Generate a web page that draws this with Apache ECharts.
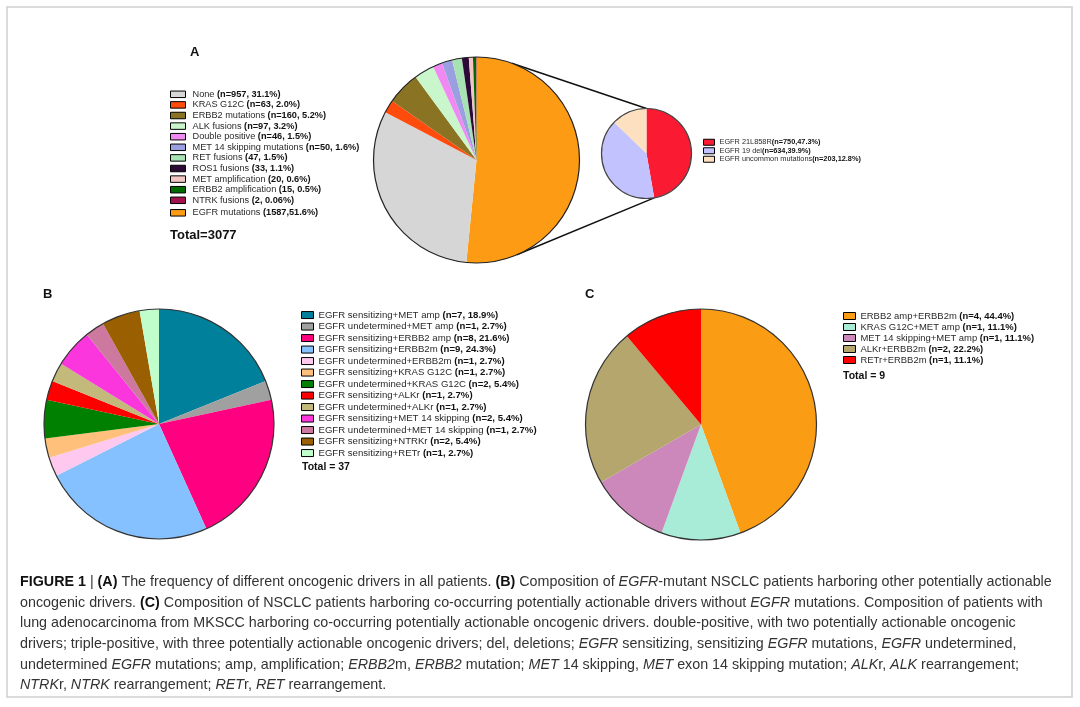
<!DOCTYPE html>
<html>
<head>
<meta charset="utf-8">
<script src="https://cdn.jsdelivr.net/npm/echarts@6/dist/echarts.min.js"></script>
<style>
  html, body { margin: 0; padding: 0; background: #fff; }
  #chart { width: 1080px; height: 707px; }
</style>
</head>
<body>
<div id="chart"></div>
<script>
// panel A - all patients (legend order, EGFR last)
const aNames = ['None', 'KRAS G12C', 'ERBB2 mutations', 'ALK fusions', 'Double positive',
  'MET 14 skipping mutations', 'RET fusions', 'ROS1 fusions', 'MET amplification',
  'ERBB2 amplification', 'NTRK fusions', 'EGFR mutations']
const aCounts = [957, 63, 160, 97, 46, 50, 47, 33, 20, 15, 2, 1587]
const aNotes = ['(n=957, 31.1%)', '(n=63, 2.0%)', '(n=160, 5.2%)', '(n=97, 3.2%)', '(n=46, 1.5%)',
  '(n=50, 1.6%)', '(47, 1.5%)', '(33, 1.1%)', '(20, 0.6%)', '(15, 0.5%)', '(2, 0.06%)', '(1587,51.6%)']
const aColors = ['#d6d6d6', '#ff4b0c', '#8a7424', '#c9f7cb', '#f08af2', '#9a9fe0', '#a6e2b2',
  '#2c0a38', '#f3c6c6', '#006a00', '#a3104e', '#fd9c14']

// EGFR mutation breakdown
const eNames = ['EGFR 21L858R', 'EGFR 19 del', 'EGFR uncommon mutations']
const eCounts = [750, 634, 203]
const eNotes = ['(n=750,47.3%)', '(n=634,39.9%)', '(n=203,12.8%)']
const eColors = ['#fa1a31', '#c2c2ff', '#fde0bf']

// panel B
const bNames = ['EGFR sensitizing+MET amp', 'EGFR undetermined+MET amp', 'EGFR sensitizing+ERBB2 amp',
  'EGFR sensitizing+ERBB2m', 'EGFR undetermined+ERBB2m', 'EGFR sensitizing+KRAS G12C',
  'EGFR undetermined+KRAS G12C', 'EGFR sensitizing+ALKr', 'EGFR undetermined+ALKr',
  'EGFR sensitizing+MET 14 skipping', 'EGFR undetermined+MET 14 skipping',
  'EGFR sensitizing+NTRKr', 'EGFR sensitizing+RETr']
const bCounts = [7, 1, 8, 9, 1, 1, 2, 1, 1, 2, 1, 2, 1]
const bNotes = ['(n=7, 18.9%)', '(n=1, 2.7%)', '(n=8, 21.6%)', '(n=9, 24.3%)', '(n=1, 2.7%)',
  '(n=1, 2.7%)', '(n=2, 5.4%)', '(n=1, 2.7%)', '(n=1, 2.7%)', '(n=2, 5.4%)', '(n=1, 2.7%)',
  '(n=2, 5.4%)', '(n=1, 2.7%)']
const bColors = ['#00809a', '#a0a0a0', '#ff0080', '#85c1ff', '#ffc8ee', '#ffc07c', '#008000',
  '#ff0000', '#c2b97a', '#fa36dc', '#cc789f', '#9a5f00', '#c0ffcc']

// panel C
const cNames = ['ERBB2 amp+ERBB2m', 'KRAS G12C+MET amp', 'MET 14 skipping+MET amp', 'ALKr+ERBB2m', 'RETr+ERBB2m']
const cCounts = [4, 1, 1, 2, 1]
const cNotes = ['(n=4, 44.4%)', '(n=1, 11.1%)', '(n=1, 11.1%)', '(n=2, 22.2%)', '(n=1, 11.1%)']
const cColors = ['#fa9c14', '#a8ecd8', '#cc88bb', '#b5a66d', '#ff0000']

const captionLines = [
  '{b|FIGURE 1} | {b|(A)} The frequency of different oncogenic drivers in all patients. {b|(B)} Composition of {i|EGFR}-mutant NSCLC patients harboring other potentially actionable',
  'oncogenic drivers. {b|(C)} Composition of NSCLC patients harboring co-occurring potentially actionable drivers without {i|EGFR} mutations. Composition of patients with',
  'lung adenocarcinoma from MKSCC harboring co-occurring potentially actionable oncogenic drivers. double-positive, with two potentially actionable oncogenic',
  'drivers; triple-positive, with three potentially actionable oncogenic drivers; del, deletions; {i|EGFR} sensitizing, sensitizing {i|EGFR} mutations, {i|EGFR} undetermined,',
  'undetermined {i|EGFR} mutations; amp, amplification; {i|ERBB2}m, {i|ERBB2} mutation; {i|MET} 14 skipping, {i|MET} exon 14 skipping mutation; {i|ALK}r, {i|ALK} rearrangement;',
  '{i|NTRK}r, {i|NTRK} rearrangement; {i|RET}r, {i|RET} rearrangement.'
]

const FONT = '"Liberation Sans", Arial, sans-serif'
const CAP = 14.3

// pie geometry
const mainC = [476.5, 160], mainR = 103
const subC = [646.5, 153.5], subR = 45
const bC = [159, 424], bR = 115
const cC = [701, 424.5], cR = 115.5

function items(names, counts, colors) {
  return names.map((n, i) => ({ name: n, value: counts[i], itemStyle: { color: colors[i] } }))
}

function pie(center, radius, data) {
  return {
    type: 'pie', center, radius, data,
    startAngle: 90, clockwise: true,
    label: { show: false }, labelLine: { show: false },
    itemStyle: { borderWidth: 0 },
    emphasis: { disabled: true }, silent: true
  }
}

function outline(center, radius, color) {
  return {
    type: 'pie', center, radius, silent: true,
    data: [{ name: '', value: 1 }],
    label: { show: false }, labelLine: { show: false },
    itemStyle: { color: 'rgba(0,0,0,0)', borderColor: color, borderWidth: 1.2 },
    emphasis: { disabled: true }
  }
}

function legend(names, notes, left, top, size, step, iw, ih, sep, gap) {
  const map = {}
  names.forEach((n, i) => { map[n] = notes[i] })
  return {
    data: names, orient: 'vertical', left, top, padding: 0, itemGap: 0,
    itemWidth: iw, itemHeight: ih, icon: 'rect', selectedMode: false,
    itemStyle: { borderColor: '#000', borderWidth: 1 },
    formatter: n => '{t|' + n + sep + '}{n|' + map[n] + '}',
    textStyle: {
      fontFamily: FONT, fontSize: size, lineHeight: step, color: '#2a2a2a',
      padding: [0, 0, 0, gap || 0],
      rich: {
        t: { fontFamily: FONT, fontSize: size, lineHeight: step, color: '#2a2a2a' },
        n: { fontFamily: FONT, fontSize: size, lineHeight: step, color: '#111', fontWeight: 'bold' }
      }
    }
  }
}

function pt(c, r, deg) {
  const a = deg * Math.PI / 180
  return [c[0] + r * Math.sin(a), c[1] - r * Math.cos(a)]
}

const aItems = items(aNames, aCounts, aColors)
const aPie = [aItems[aItems.length - 1]].concat(aItems.slice(0, -1))
const eTotal = eCounts.reduce((s, v) => s + v, 0)
const eSplit = eCounts[0] / eTotal * 360

const t1 = pt(mainC, mainR, 20), t2 = pt(subC, subR, 0)
const b1 = pt(mainC, mainR, 157), b2 = pt(subC, subR, eSplit)

function label(text, x, y, size) {
  return {
    type: 'text', x, y, silent: true,
    style: { text, fill: '#111', font: 'bold ' + size + 'px ' + FONT, verticalAlign: 'middle' }
  }
}

const capRich = {
  b: { fontFamily: FONT, fontSize: CAP, fontWeight: 'bold', fill: '#111' },
  i: { fontFamily: FONT, fontSize: CAP, fontStyle: 'italic', fill: '#333' }
}

const graphics = [
  {
    type: 'rect', silent: true, z: -1,
    shape: { x: 7, y: 7, width: 1065, height: 690 },
    style: { fill: '#fff', stroke: '#cfcfcf', lineWidth: 1.5 }
  },
  { type: 'line', silent: true, shape: { x1: t1[0], y1: t1[1], x2: t2[0], y2: t2[1] }, style: { stroke: '#111', lineWidth: 1.5 } },
  { type: 'line', silent: true, shape: { x1: b1[0], y1: b1[1], x2: b2[0], y2: b2[1] }, style: { stroke: '#111', lineWidth: 1.5 } },
  label('A', 190, 52, 13),
  label('B', 43, 294, 13),
  label('C', 585, 294, 13),
  label('Total=3077', 170, 235, 13),
  label('Total = 37', 302, 467, 10.5),
  label('Total = 9', 843, 376, 10.5)
]
captionLines.forEach((line, i) => {
  graphics.push({
    type: 'text', x: 20, y: 582 + i * 20.7, silent: true,
    style: { text: line, fill: '#333', font: CAP + 'px ' + FONT, verticalAlign: 'middle', rich: capRich }
  })
})

const option = {
  animation: false,
  backgroundColor: '#fff',
  legend: [
    legend(aNames.slice(0, 11), aNotes.slice(0, 11), 170, 89, 9.2, 10.6, 15, 6.5, ' ', 2),
    legend(aNames.slice(11), aNotes.slice(11), 170, 207.5, 9.2, 10.6, 15, 6.5, ' ', 2),
    legend(eNames, eNotes, 703, 138, 7.35, 8.5, 11, 6, ''),
    legend(bNames, bNotes, 301, 309.3, 9.6, 11.5, 12, 7, ' '),
    legend(cNames, cNotes, 843, 310.5, 9.45, 11, 12, 7, ' ')
  ],
  series: [
    pie(mainC, mainR, aPie),
    outline(mainC, mainR, '#222'),
    pie(subC, subR, items(eNames, eCounts, eColors)),
    outline(subC, subR, '#444'),
    pie(bC, bR, items(bNames, bCounts, bColors)),
    outline(bC, bR, '#333'),
    pie(cC, cR, items(cNames, cCounts, cColors)),
    outline(cC, cR, '#333')
  ],
  graphic: graphics
}

const myChart = echarts.init(document.getElementById('chart'))
myChart.setOption(option)
</script>
</body>
</html>
